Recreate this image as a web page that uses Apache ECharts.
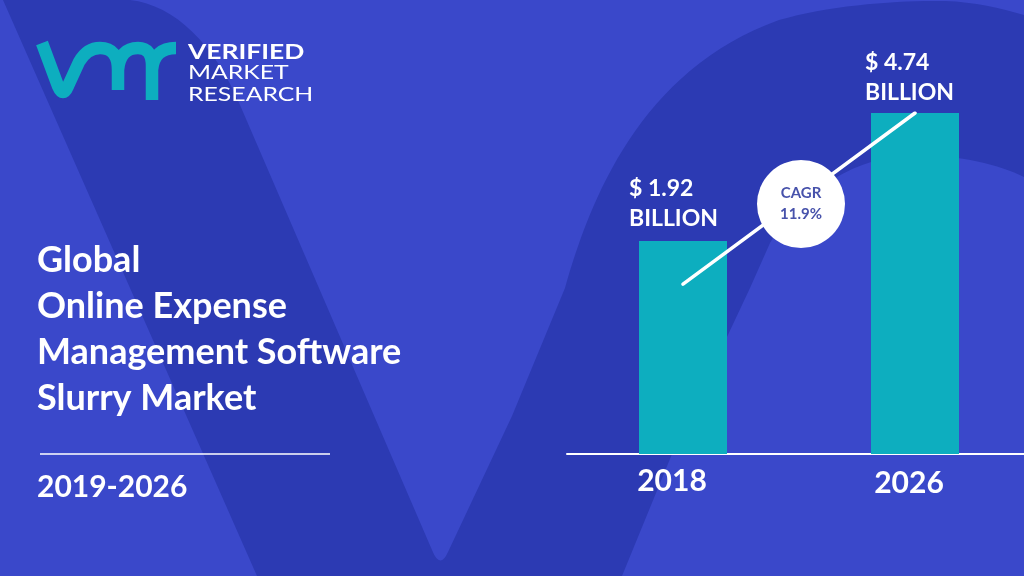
<!DOCTYPE html>
<html lang="en">
<head>
  <meta charset="UTF-8">
  <title>Online Expense Management Software Slurry Market</title>
  <script src="https://cdnjs.cloudflare.com/ajax/libs/echarts/6.0.0/echarts.min.js"></script>
  <style>
    html, body { margin: 0; padding: 0; }
  </style>
</head>
<body>
  <div id="main" style="width:1024px;height:576px"></div>
  <script type="text/javascript">
    // chart values
    var years = ['2018', '2026'];
    var marketValues = [1.92, 4.74];
    var cagrLine = [0.97, 4.74];
    var titleLines = ['Global', 'Online Expense', 'Management Software', 'Slurry Market'];
    var periodText = '2019-2026';
    var cagrLabel = ['CAGR', '11.9%'];
    var logoWords = ['VERIFIED', 'MARKET', 'RESEARCH'];

    var LIGHT = '#3a48ca';
    var DARK = '#2c3ab3';
    var TEAL = '#0daebf';
    var FONT = 'Lato';

    // the bars in the picture are schematic, so the hidden axis starts below zero
    var AXIS_MIN = -2.77;

    var labelOffsets = [[-54, -2], [-50, 0]];
    var yearPadding = [22, 12];

    // background V and the logo mark are plain decoration, registered as custom shapes
    echarts.graphic.registerShape('vBand', echarts.graphic.extendPath(
      'M3,0 L130,0 C175,5 215,45 240,105 L432,550 Q440,570 448,552 L512,416 L565,288 ' +
      'C590,200 640,70 779,20 C830,5 900,0 945,1 C975,2 1000,8 1024,15 L1024,177 ' +
      'C1000,165 960,155 915,155 C860,155 800,190 770,243 L750,288 L672,454 L622,576 L257,576 Z', {}));
    echarts.graphic.registerShape('logoMark', echarts.graphic.extendPath(
      'M42,43 L58,86 Q63,98 68,86 L79,62 Q87,48 100,48 Q118,48 118,70 L118,90 ' +
      'M118,70 Q120,48 138,48 Q152,48 152,66 L152,100 M152,70 Q154,48 176,48', {}));

    var myChart = echarts.init(document.getElementById('main'));

    function logoText(i, y, weight, stretch) {
      return {
        type: 'text',
        z: 20,
        x: 188,
        y: y,
        scaleX: stretch,
        style: {
          text: logoWords[i],
          fill: '#fff',
          font: weight + ' 20px ' + FONT
        }
      };
    }

    function badgeText(i, y) {
      return {
        type: 'text',
        z: 21,
        x: 801,
        y: y,
        style: {
          text: cagrLabel[i],
          fill: '#4752ab',
          align: 'center',
          verticalAlign: 'middle',
          font: 'bold 15px ' + FONT
        }
      };
    }

    var option = {
      backgroundColor: LIGHT,
      animation: false,
      title: [
        {
          text: titleLines.join('\n'),
          left: 37,
          top: 237,
          padding: 0,
          textStyle: { color: '#fff', fontFamily: FONT, fontWeight: 'bold', fontSize: 36, lineHeight: 46 }
        },
        {
          text: periodText,
          left: 37,
          top: 469,
          padding: 0,
          textStyle: { color: '#fff', fontFamily: FONT, fontWeight: 'bold', fontSize: 30, lineHeight: 36 }
        }
      ],
      grid: { left: 567, width: 464, top: 113, height: 341, outerBoundsMode: 'none' },
      xAxis: {
        type: 'category',
        data: years,
        axisTick: { show: false },
        axisLine: { onZero: false, lineStyle: { color: '#fff', width: 2 } },
        axisLabel: {
          margin: 12,
          interval: 0,
          formatter: function (v, i) { return '{y' + i + '|' + v + '}'; },
          rich: {
            y0: { color: '#fff', fontFamily: FONT, fontWeight: 'bold', fontSize: 30, padding: [0, yearPadding[0], 0, 0] },
            y1: { color: '#fff', fontFamily: FONT, fontWeight: 'bold', fontSize: 30, padding: [2, yearPadding[1], 0, 0] }
          }
        }
      },
      yAxis: {
        type: 'value',
        show: false,
        min: AXIS_MIN,
        max: 4.74,
        startValue: AXIS_MIN,
        splitLine: { show: false }
      },
      series: [
        {
          type: 'bar',
          barWidth: 88,
          itemStyle: { color: TEAL },
          data: marketValues.map(function (v, i) {
            return { value: v, label: { offset: labelOffsets[i] } };
          }),
          label: {
            show: true,
            position: 'top',
            align: 'left',
            color: '#fff',
            fontFamily: FONT,
            fontWeight: 'bold',
            fontSize: 23,
            lineHeight: 30,
            formatter: function (p) { return '$ ' + p.value.toFixed(2) + '\nBILLION'; }
          }
        },
        {
          type: 'line',
          data: cagrLine,
          z: 5,
          symbol: 'none',
          silent: true,
          lineStyle: { color: '#fff', width: 3.5, cap: 'round' }
        }
      ],
      graphic: [
        { type: 'vBand', z: -10, style: { fill: DARK } },
        { type: 'logoMark', z: 20, style: { fill: null, stroke: TEAL, lineWidth: 12.5, lineJoin: 'round' } },
        logoText(0, 43, 'bold', 1.32),
        logoText(1, 63, 'normal', 1.24),
        logoText(2, 85, 'normal', 1.24),
        // left rule
        {
          type: 'line',
          z: 20,
          shape: { x1: 40, y1: 454, x2: 330, y2: 454 },
          style: { stroke: '#fff', lineWidth: 1.5 }
        },
        // CAGR badge
        {
          type: 'circle',
          z: 20,
          shape: { cx: 801, cy: 204, r: 44 },
          style: { fill: '#fff' }
        },
        badgeText(0, 193),
        badgeText(1, 214)
      ]
    };

    myChart.setOption(option);
  </script>
</body>
</html>
